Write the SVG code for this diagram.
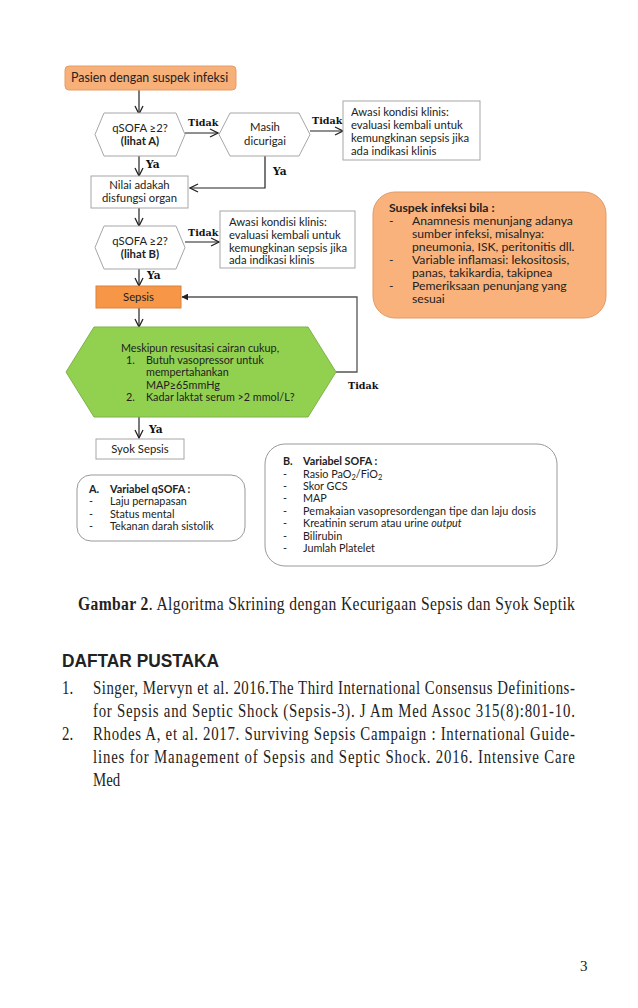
<svg xmlns="http://www.w3.org/2000/svg" width="638" height="1008" viewBox="0 0 638 1008">
<defs>
<marker id="open" viewBox="0 0 10 10" refX="9" refY="5" markerWidth="10" markerHeight="10" markerUnits="userSpaceOnUse" orient="auto">
<path d="M1,1 L9,5 L1,9" fill="none" stroke="#222" stroke-width="1.3"/>
</marker>
<marker id="solid" viewBox="0 0 10 10" refX="9" refY="5" markerWidth="7" markerHeight="7" markerUnits="userSpaceOnUse" orient="auto">
<path d="M0,0 L10,5 L0,10 z" fill="#222"/>
</marker>
<style>
.t{font-family:Lato,"Open Sans","Liberation Sans",sans-serif;font-size:10.8px;fill:#222}
.m{font-size:11.3px}
.s{font-size:12.2px}
.p{font-size:12.4px}
.b{font-weight:bold}
.lbl{font-family:"DejaVu Serif","Liberation Serif",serif;font-size:9.6px;font-weight:bold;fill:#111}
.ya{font-size:10.6px}
.box{fill:#fff;stroke:#a6a6a6;stroke-width:1}
.hex{fill:#fff;stroke:#a6a6a6;stroke-width:1}
.ln{fill:none;stroke:#222;stroke-width:1.2}
.fb{fill:none;stroke:#555;stroke-width:1.3}
.cap{font-family:"Liberation Serif",serif;font-size:19px;fill:#222}
.ref{font-family:"Liberation Serif",serif;font-size:19.5px;fill:#222}
</style>
</defs>
<rect width="638" height="1008" fill="#fff"/>

<g id="connectors">
<line class="ln" x1="139" y1="90" x2="139" y2="114" marker-end="url(#open)"/>
<line class="ln" x1="185" y1="133" x2="218" y2="133" marker-end="url(#open)"/>
<line class="ln" x1="310" y1="131" x2="343" y2="131" marker-end="url(#open)"/>
<line class="ln" x1="139" y1="156" x2="139" y2="176" marker-end="url(#open)"/>
<polyline class="ln" points="265,156 265,188 190,188" marker-end="url(#open)"/>
<line class="ln" x1="139" y1="208" x2="139" y2="226" marker-end="url(#open)"/>
<line class="ln" x1="185" y1="242" x2="219" y2="242" marker-end="url(#open)"/>
<line class="ln" x1="139" y1="269" x2="139" y2="286" marker-end="url(#open)"/>
<line class="ln" x1="139" y1="308" x2="139" y2="327" marker-end="url(#open)"/>
<polyline class="fb" points="336,372 357,372 357,297 182,297" marker-end="url(#solid)"/>
<line class="ln" x1="139" y1="417" x2="139" y2="438" marker-end="url(#open)"/>
<text class="lbl" x="188" y="126">Tidak</text>
<text class="lbl" x="312" y="124">Tidak</text>
<text class="lbl ya" x="146" y="168">Ya</text>
<text class="lbl ya" x="273" y="175">Ya</text>
<text class="lbl" x="188" y="236">Tidak</text>
<text class="lbl ya" x="147" y="279">Ya</text>
<text class="lbl" x="348" y="389">Tidak</text>
<text class="lbl ya" x="149" y="433">Ya</text>
</g>

<g id="pasien">
<rect x="65" y="66" width="171" height="24" rx="4" fill="#f8b079" stroke="#e39d68" stroke-width="1"/>
<text class="t p" x="71" y="82">Pasien dengan suspek infeksi</text>
</g>

<g id="qsofa-a">
<polygon class="hex" points="95,134.5 104,113 176,113 185,134.5 176,156 104,156"/>
<text class="t m" x="140" y="132" text-anchor="middle">qSOFA ≥2?</text>
<text class="t m b" x="140" y="145" text-anchor="middle">(lihat A)</text>
</g>

<g id="masih">
<polygon class="hex" points="219,134.5 230,113 299,113 310,134.5 299,156 230,156"/>
<text class="t m" x="265" y="131" text-anchor="middle">Masih</text>
<text class="t m" x="265" y="145" text-anchor="middle">dicurigai</text>
</g>

<g id="awasi-1">
<rect class="box" x="343" y="101" width="137" height="59"/>
<text class="t m" x="351" y="116">Awasi kondisi klinis:</text>
<text class="t m" x="351" y="129">evaluasi kembali untuk</text>
<text class="t m" x="351" y="142">kemungkinan sepsis jika</text>
<text class="t m" x="351" y="155">ada indikasi klinis</text>
</g>

<g id="nilai">
<rect class="box" x="91" y="176" width="97" height="32"/>
<text class="t m" x="139.5" y="189" text-anchor="middle">Nilai adakah</text>
<text class="t m" x="139.5" y="202" text-anchor="middle">disfungsi organ</text>
</g>

<g id="qsofa-b">
<polygon class="hex" points="95,247.5 104,226 176,226 185,247.5 176,269 104,269"/>
<text class="t m" x="140" y="245" text-anchor="middle">qSOFA ≥2?</text>
<text class="t m b" x="140" y="258" text-anchor="middle">(lihat B)</text>
</g>

<g id="awasi-2">
<rect class="box" x="220" y="211" width="135" height="57"/>
<text class="t m" x="229" y="226">Awasi kondisi klinis:</text>
<text class="t m" x="229" y="239">evaluasi kembali untuk</text>
<text class="t m" x="229" y="252">kemungkinan sepsis jika</text>
<text class="t m" x="229" y="264">ada indikasi klinis</text>
</g>

<g id="suspek">
<rect x="373" y="192" width="233" height="126" rx="22" fill="#f9b27b" stroke="#e09a66" stroke-width="1"/>
<text class="t s b" x="389" y="212">Suspek infeksi bila :</text>
<text class="t s" x="389" y="225">-</text>
<text class="t s" x="412" y="225">Anamnesis  menunjang adanya</text>
<text class="t s" x="412" y="238">sumber infeksi, misalnya:</text>
<text class="t s" x="412" y="251">pneumonia, ISK, peritonitis dll.</text>
<text class="t s" x="389" y="264">-</text>
<text class="t s" x="412" y="264">Variable inflamasi: lekositosis,</text>
<text class="t s" x="412" y="277">panas, takikardia, takipnea</text>
<text class="t s" x="389" y="290">-</text>
<text class="t s" x="412" y="290">Pemeriksaan penunjang yang</text>
<text class="t s" x="412" y="303">sesuai</text>
</g>

<g id="sepsis">
<rect x="96" y="286" width="85" height="22" fill="#f79646" stroke="#d9823c" stroke-width="1"/>
<text class="t m" x="138.5" y="301" text-anchor="middle">Sepsis</text>
</g>

<g id="syok-check">
<polygon points="66,372 94,327 308,327 336,372 308,417 94,417" fill="#92d050" stroke="#7fb24a" stroke-width="1"/>
<text class="t" x="121" y="352">Meskipun resusitasi cairan cukup,</text>
<text class="t" x="126" y="364">1.</text>
<text class="t" x="146" y="364">Butuh vasopressor untuk</text>
<text class="t" x="146" y="376">mempertahankan</text>
<text class="t" x="146" y="389">MAP≥65mmHg</text>
<text class="t" x="126" y="401">2.</text>
<text class="t" x="146" y="401">Kadar laktat serum &gt;2 mmol/L?</text>
</g>

<g id="syok-sepsis">
<rect class="box" x="96" y="439" width="88" height="20"/>
<text class="t m" x="140" y="453" text-anchor="middle">Syok Sepsis</text>
</g>

<g id="variabel-a">
<rect x="77" y="475" width="168" height="66" rx="14" fill="#fff" stroke="#999" stroke-width="1"/>
<text class="t b" x="89" y="493">A.</text>
<text class="t b" x="110" y="493">Variabel qSOFA :</text>
<text class="t" x="89" y="505">-</text>
<text class="t" x="110" y="505">Laju pernapasan</text>
<text class="t" x="89" y="518">-</text>
<text class="t" x="110" y="518">Status mental</text>
<text class="t" x="89" y="530">-</text>
<text class="t" x="110" y="530">Tekanan darah sistolik</text>
</g>

<g id="variabel-b">
<rect x="265" y="444" width="292" height="122" rx="20" fill="#fff" stroke="#999" stroke-width="1"/>
<text class="t b" x="283" y="465">B.</text>
<text class="t b" x="303" y="465">Variabel SOFA :</text>
<text class="t" x="283" y="478">-</text>
<text class="t" x="303" y="478">Rasio PaO<tspan font-size="7.5" dy="2">2</tspan><tspan dy="-2">/FiO</tspan><tspan font-size="7.5" dy="2">2</tspan></text>
<text class="t" x="283" y="490">-</text>
<text class="t" x="303" y="490">Skor GCS</text>
<text class="t" x="283" y="502">-</text>
<text class="t" x="303" y="502">MAP</text>
<text class="t" x="283" y="515">-</text>
<text class="t" x="303" y="515" textLength="233" lengthAdjust="spacing">Pemakaian vasopresordengan tipe dan laju dosis</text>
<text class="t" x="283" y="527">-</text>
<text class="t" x="303" y="527">Kreatinin serum atau urine <tspan font-style="italic">output</tspan></text>
<text class="t" x="283" y="540">-</text>
<text class="t" x="303" y="540">Bilirubin</text>
<text class="t" x="283" y="552">-</text>
<text class="t" x="303" y="552">Jumlah Platelet</text>
</g>

<text class="cap" transform="translate(78,610) scale(0.82,1)" x="0" y="0" textLength="606" lengthAdjust="spacing"><tspan font-weight="bold">Gambar 2</tspan>. Algoritma Skrining dengan Kecurigaan Sepsis dan Syok Septik</text>

<text x="62" y="667" font-family="'Liberation Sans',Arial,sans-serif" font-size="18" font-weight="bold" fill="#222" textLength="157" lengthAdjust="spacingAndGlyphs">DAFTAR PUSTAKA</text>
<text class="ref" transform="translate(62,694) scale(0.76,1)">1.</text>
<text class="ref" transform="translate(93,694) scale(0.76,1)" textLength="634" lengthAdjust="spacing">Singer, Mervyn et al. 2016.The Third International Consensus Definitions-</text>
<text class="ref" transform="translate(93,717) scale(0.76,1)" textLength="634" lengthAdjust="spacing">for Sepsis and Septic Shock (Sepsis-3). J Am Med Assoc 315(8):801-10.</text>
<text class="ref" transform="translate(62,740) scale(0.76,1)">2.</text>
<text class="ref" transform="translate(93,740) scale(0.76,1)" textLength="634" lengthAdjust="spacing">Rhodes A, et al. 2017. Surviving Sepsis Campaign : International Guide-</text>
<text class="ref" transform="translate(93,763) scale(0.76,1)" textLength="634" lengthAdjust="spacing">lines for Management of Sepsis and Septic Shock. 2016. Intensive Care</text>
<text class="ref" transform="translate(93,786) scale(0.76,1)">Med</text>

<text x="580" y="971" font-family="'Liberation Serif',serif" font-size="15" fill="#222">3</text>
</svg>
